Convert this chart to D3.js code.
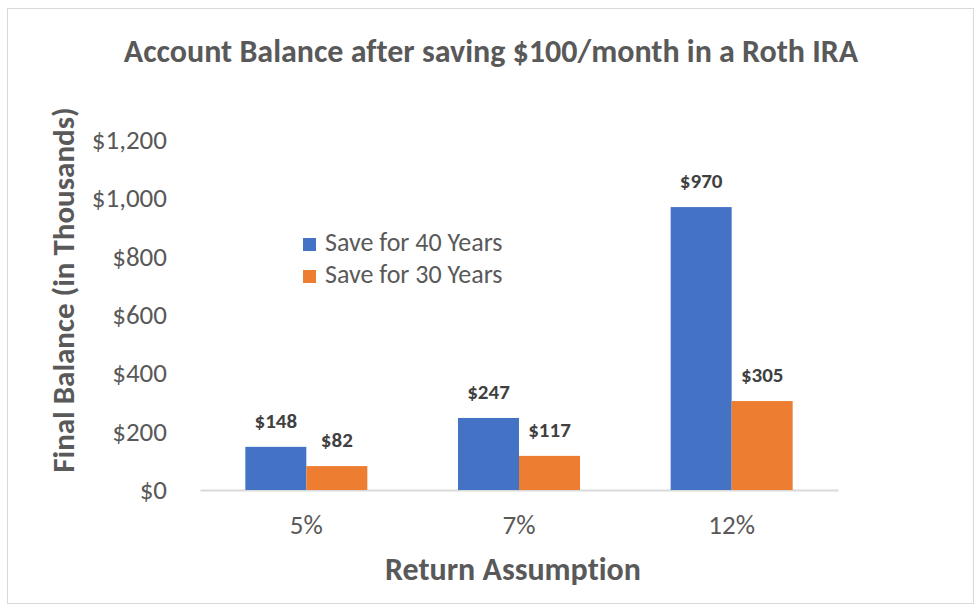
<!DOCTYPE html>
<html>
<head>
<meta charset="utf-8">
<script src="https://cdn.jsdelivr.net/npm/d3@7"></script>
<style>
  body { margin: 0; background: #fff; }
  text { font-family: Calibri, Carlito, Lato, sans-serif; font-variant-ligatures: none; }
</style>
</head>
<body>
<div id="chart"></div>
<script>
// chart data
var categories = ["5%", "7%", "12%"];
var seriesNames = ["Save for 40 Years", "Save for 30 Years"];
var save40 = [148, 247, 970];
var save30 = [82, 117, 305];
var yTicks = [0, 200, 400, 600, 800, 1000, 1200];
var colors = ["#4472C4", "#ED7D31"];

var W = 979, H = 610;
var margin = {top: 140, right: 141, bottom: 120, left: 200},
    width = W - margin.left - margin.right,
    height = H - margin.top - margin.bottom;

var svg = d3.select("#chart").append("svg")
    .attr("width", W)
    .attr("height", H);

// outer border
svg.append("rect")
  .attr("x", 7.5).attr("y", 8.5)
  .attr("width", 966).attr("height", 595)
  .attr("fill", "#fff")
  .attr("stroke", "#d9d9d9");

var g = svg.append("g")
  .attr("transform", "translate(" + margin.left + "," + margin.top + ")");

var rows = categories.map(function(c, i) { return {cat: c, values: [save40[i], save30[i]]}; });

// scales
var x0 = d3.scaleBand().domain(categories).range([0, width]).padding(0);
var x1 = d3.scaleBand().domain([0, 1]).range([0, x0.bandwidth()]).paddingInner(0).paddingOuter(0.743);
var y = d3.scaleLinear().domain([0, 1200]).range([height, 0]);

// y axis (no line, no ticks)
var yAxis = g.append("g")
  .call(d3.axisLeft(y).tickValues(yTicks).tickSize(0).tickPadding(33)
    .tickFormat(function(d) { return "$" + d3.format(",")(d); }));
yAxis.select(".domain").remove();
yAxis.selectAll("text")
  .style("font-size", "27px")
  .attr("fill", "#595959");

// x axis
var xAxis = g.append("g")
  .attr("transform", "translate(0," + height + ")")
  .call(d3.axisBottom(x0).tickSize(0).tickPadding(25));
xAxis.select(".domain").attr("stroke", "#d9d9d9").attr("stroke-width", 2);
xAxis.selectAll("text")
  .style("font-size", "27px")
  .attr("fill", "#595959");

// bars
var grp = g.selectAll(".grp")
  .data(rows)
  .enter().append("g")
  .attr("transform", function(d) { return "translate(" + x0(d.cat) + ",0)"; });

grp.selectAll("rect")
  .data(function(d) { return d.values; })
  .enter().append("rect")
  .attr("x", function(d, i) { return x1(i); })
  .attr("y", function(d) { return y(d); })
  .attr("width", x1.bandwidth())
  .attr("height", function(d) { return height - y(d); })
  .attr("fill", function(d, i) { return colors[i]; });

// data labels
grp.selectAll(".lbl")
  .data(function(d) { return d.values; })
  .enter().append("text")
  .attr("class", "lbl")
  .attr("x", function(d, i) { return x1(i) + x1.bandwidth() / 2; })
  .attr("y", function(d) { return y(d) - 19; })
  .attr("text-anchor", "middle")
  .style("font-size", "21px")
  .style("font-weight", "bold")
  .attr("fill", "#404040")
  .text(function(d) { return "$" + d; });

// title
svg.append("text")
  .attr("x", 491).attr("y", 62)
  .attr("text-anchor", "middle")
  .style("font-size", "32px")
  .style("font-weight", "bold")
  .attr("fill", "#595959")
  .text("Account Balance after saving $100/month in a Roth IRA");

// axis titles
svg.append("text")
  .attr("transform", "translate(74,290) rotate(-90)")
  .attr("text-anchor", "middle")
  .style("font-size", "31px")
  .style("font-weight", "bold")
  .attr("fill", "#595959")
  .text("Final Balance (in Thousands)");

svg.append("text")
  .attr("x", 513).attr("y", 580)
  .attr("text-anchor", "middle")
  .style("font-size", "32px")
  .style("font-weight", "bold")
  .attr("fill", "#595959")
  .text("Return Assumption");

// legend
var legend = svg.append("g").attr("transform", "translate(303,238)");
seriesNames.forEach(function(name, i) {
  legend.append("rect")
    .attr("x", 0).attr("y", i * 32)
    .attr("width", 13).attr("height", 13)
    .attr("fill", colors[i]);
  legend.append("text")
    .attr("x", 22).attr("y", i * 32 + 13)
    .style("font-size", "26px")
    .attr("fill", "#595959")
    .text(name);
});
</script>
</body>
</html>
